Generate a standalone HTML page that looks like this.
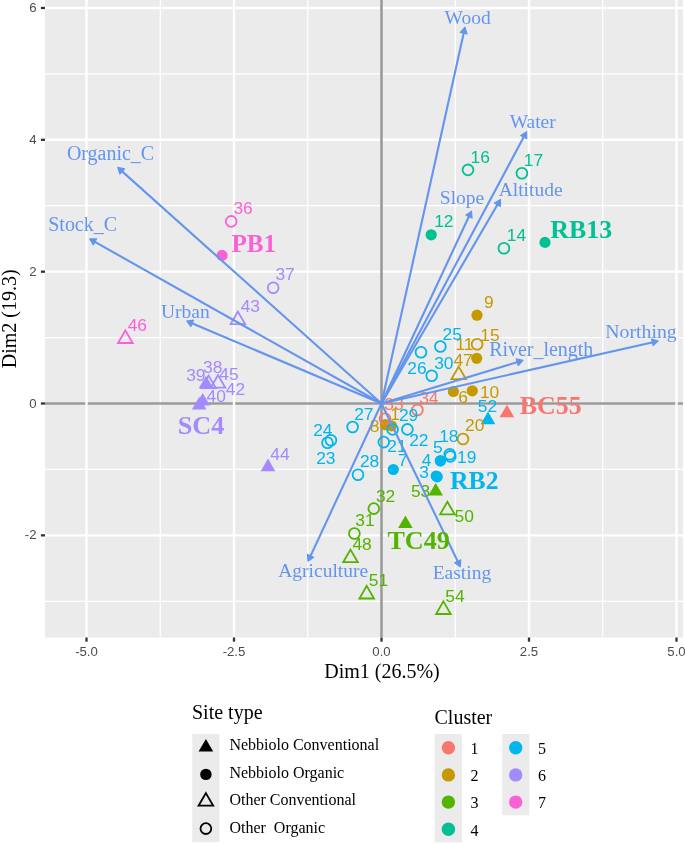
<!DOCTYPE html>
<html lang="en"><head><meta charset="utf-8"><title>PCA biplot</title>
<style>html,body{margin:0;padding:0;background:#fff}svg{display:block}.s{font-family:"Liberation Sans",Arial,sans-serif}.t{font-family:"Liberation Serif","Times New Roman",serif}</style></head><body>
<svg width="685" height="844" viewBox="0 0 685 844">
<rect x="0" y="0" width="685" height="844" fill="#fff"/>
<rect x="45.0" y="0.0" width="638.0" height="637.5" fill="#EBEBEB"/>
<clipPath id="p"><rect x="45" y="0" width="638" height="637.5"/></clipPath>
<g clip-path="url(#p)">
<line x1="45.0" x2="683.0" y1="73.90" y2="73.90" stroke="#fff" stroke-width="1.25"/>
<line x1="45.0" x2="683.0" y1="205.74" y2="205.74" stroke="#fff" stroke-width="1.25"/>
<line x1="45.0" x2="683.0" y1="337.58" y2="337.58" stroke="#fff" stroke-width="1.25"/>
<line x1="45.0" x2="683.0" y1="469.42" y2="469.42" stroke="#fff" stroke-width="1.25"/>
<line x1="45.0" x2="683.0" y1="601.26" y2="601.26" stroke="#fff" stroke-width="1.25"/>
<line x1="45.0" x2="683.0" y1="7.98" y2="7.98" stroke="#fff" stroke-width="2.4"/>
<line x1="45.0" x2="683.0" y1="139.82" y2="139.82" stroke="#fff" stroke-width="2.4"/>
<line x1="45.0" x2="683.0" y1="271.66" y2="271.66" stroke="#fff" stroke-width="2.4"/>
<line x1="45.0" x2="683.0" y1="403.50" y2="403.50" stroke="#fff" stroke-width="2.4"/>
<line x1="45.0" x2="683.0" y1="535.34" y2="535.34" stroke="#fff" stroke-width="2.4"/>
<line y1="0.0" y2="637.5" x1="160.25" x2="160.25" stroke="#fff" stroke-width="1.25"/>
<line y1="0.0" y2="637.5" x1="307.75" x2="307.75" stroke="#fff" stroke-width="1.25"/>
<line y1="0.0" y2="637.5" x1="455.25" x2="455.25" stroke="#fff" stroke-width="1.25"/>
<line y1="0.0" y2="637.5" x1="602.75" x2="602.75" stroke="#fff" stroke-width="1.25"/>
<line x1="45.0" x2="683.0" y1="403.5" y2="403.5" stroke="#999" stroke-width="2.6"/>
<line y1="0.0" y2="637.5" x1="86.50" x2="86.50" stroke="#fff" stroke-width="2.4"/>
<line y1="0.0" y2="637.5" x1="234.00" x2="234.00" stroke="#fff" stroke-width="2.4"/>
<line y1="0.0" y2="637.5" x1="381.50" x2="381.50" stroke="#fff" stroke-width="2.4"/>
<line y1="0.0" y2="637.5" x1="529.00" x2="529.00" stroke="#fff" stroke-width="2.4"/>
<line y1="0.0" y2="637.5" x1="676.50" x2="676.50" stroke="#fff" stroke-width="2.4"/>
<line y1="0.0" y2="637.5" x1="381.5" x2="381.5" stroke="#999" stroke-width="2.6"/>
<circle cx="391.4" cy="425.8" r="5.6000000000000005" fill="#C49A00"/>
<circle cx="437.2" cy="476.8" r="5.6000000000000005" fill="#00B6EB"/>
<circle cx="436.2" cy="476.0" r="5.6000000000000005" fill="#00B6EB"/>
<circle cx="440.4" cy="460.8" r="5.6000000000000005" fill="#00B6EB"/>
<circle cx="440.4" cy="460.8" r="5.6000000000000005" fill="#00B6EB"/>
<circle cx="453.4" cy="391.5" r="5.6000000000000005" fill="#C49A00"/>
<circle cx="393.3" cy="469.5" r="5.6000000000000005" fill="#00B6EB"/>
<circle cx="385.5" cy="424.7" r="5.6000000000000005" fill="#C49A00"/>
<circle cx="477.0" cy="315.2" r="5.6000000000000005" fill="#C49A00"/>
<circle cx="472.3" cy="390.8" r="5.6000000000000005" fill="#C49A00"/>
<circle cx="476.7" cy="358.3" r="5.6000000000000005" fill="#C49A00"/>
<circle cx="431.2" cy="234.8" r="5.6000000000000005" fill="#00C094"/>
<circle cx="545.0" cy="242.4" r="5.6000000000000005" fill="#00C094"/>
<circle cx="503.9" cy="248.2" r="5.4" fill="none" stroke="#00C094" stroke-width="1.8"/>
<circle cx="477.1" cy="344.3" r="5.4" fill="none" stroke="#C49A00" stroke-width="1.8"/>
<circle cx="468.0" cy="169.9" r="5.4" fill="none" stroke="#00C094" stroke-width="1.8"/>
<circle cx="521.9" cy="173.2" r="5.4" fill="none" stroke="#00C094" stroke-width="1.8"/>
<circle cx="449.7" cy="454.2" r="5.4" fill="none" stroke="#00B6EB" stroke-width="1.8"/>
<circle cx="450.3" cy="456.4" r="5.4" fill="none" stroke="#00B6EB" stroke-width="1.8"/>
<circle cx="463.0" cy="439.0" r="5.4" fill="none" stroke="#C49A00" stroke-width="1.8"/>
<circle cx="392.6" cy="429.4" r="5.4" fill="none" stroke="#00B6EB" stroke-width="1.8"/>
<circle cx="383.8" cy="442.1" r="5.4" fill="none" stroke="#00B6EB" stroke-width="1.8"/>
<circle cx="327.5" cy="442.7" r="5.4" fill="none" stroke="#00B6EB" stroke-width="1.8"/>
<circle cx="330.9" cy="440.2" r="5.4" fill="none" stroke="#00B6EB" stroke-width="1.8"/>
<circle cx="440.4" cy="346.5" r="5.4" fill="none" stroke="#00B6EB" stroke-width="1.8"/>
<circle cx="421.0" cy="352.2" r="5.4" fill="none" stroke="#00B6EB" stroke-width="1.8"/>
<circle cx="352.6" cy="427.0" r="5.4" fill="none" stroke="#00B6EB" stroke-width="1.8"/>
<circle cx="358.0" cy="474.8" r="5.4" fill="none" stroke="#00B6EB" stroke-width="1.8"/>
<circle cx="407.4" cy="429.4" r="5.4" fill="none" stroke="#00B6EB" stroke-width="1.8"/>
<circle cx="431.7" cy="375.8" r="5.4" fill="none" stroke="#00B6EB" stroke-width="1.8"/>
<circle cx="354.4" cy="533.5" r="5.4" fill="none" stroke="#53B400" stroke-width="1.8"/>
<circle cx="373.8" cy="508.6" r="5.4" fill="none" stroke="#53B400" stroke-width="1.8"/>
<circle cx="385.0" cy="418.8" r="5.4" fill="none" stroke="#F8766D" stroke-width="1.8"/>
<circle cx="417.4" cy="410.0" r="5.4" fill="none" stroke="#F8766D" stroke-width="1.8"/>
<circle cx="222.1" cy="255.4" r="5.6000000000000005" fill="#FB61D7"/>
<circle cx="231.2" cy="221.4" r="5.4" fill="none" stroke="#FB61D7" stroke-width="1.8"/>
<circle cx="273.2" cy="287.7" r="5.4" fill="none" stroke="#A58AFF" stroke-width="1.8"/>
<polygon points="208.6,375.6 215.9,388.2 201.3,388.2" fill="none" stroke="#A58AFF" stroke-width="1.8" stroke-linejoin="miter"/>
<polygon points="206.0,375.7 213.3,388.3 198.7,388.3" fill="#A58AFF"/>
<polygon points="202.7,393.0 210.0,405.6 195.4,405.6" fill="#A58AFF"/>
<polygon points="199.2,396.8 206.5,409.4 191.9,409.4" fill="#A58AFF"/>
<polygon points="237.9,311.6 245.2,324.2 230.6,324.2" fill="none" stroke="#A58AFF" stroke-width="1.8" stroke-linejoin="miter"/>
<polygon points="268.0,458.6 275.3,471.2 260.7,471.2" fill="#A58AFF"/>
<polygon points="218.0,375.1 225.3,387.7 210.7,387.7" fill="none" stroke="#A58AFF" stroke-width="1.8" stroke-linejoin="miter"/>
<polygon points="125.4,330.4 132.7,343.0 118.1,343.0" fill="none" stroke="#FB61D7" stroke-width="1.8" stroke-linejoin="miter"/>
<polygon points="458.7,366.6 466.0,379.2 451.4,379.2" fill="none" stroke="#C49A00" stroke-width="1.8" stroke-linejoin="miter"/>
<polygon points="350.5,549.6 357.8,562.2 343.2,562.2" fill="none" stroke="#53B400" stroke-width="1.8" stroke-linejoin="miter"/>
<polygon points="405.4,515.5 412.7,528.1 398.1,528.1" fill="#53B400"/>
<polygon points="447.4,501.8 454.7,514.4 440.1,514.4" fill="none" stroke="#53B400" stroke-width="1.8" stroke-linejoin="miter"/>
<polygon points="366.7,585.9 374.0,598.5 359.4,598.5" fill="none" stroke="#53B400" stroke-width="1.8" stroke-linejoin="miter"/>
<polygon points="488.0,411.6 495.3,424.2 480.7,424.2" fill="#00B6EB"/>
<polygon points="435.7,483.0 443.0,495.6 428.4,495.6" fill="#53B400"/>
<polygon points="443.4,601.4 450.7,614.0 436.1,614.0" fill="none" stroke="#53B400" stroke-width="1.8" stroke-linejoin="miter"/>
<polygon points="506.9,404.7 514.2,417.3 499.6,417.3" fill="#F8766D"/>
<text class="s" x="394.0" y="410.1" font-size="17.4" text-anchor="middle" fill="#F8766D">33</text>
<text class="s" x="428.8" y="403.5" font-size="17.4" text-anchor="middle" fill="#F8766D">34</text>
<text class="s" x="488.8" y="308.1" font-size="17.4" text-anchor="middle" fill="#C49A00">9</text>
<text class="s" x="489.9" y="341.4" font-size="17.4" text-anchor="middle" fill="#C49A00">15</text>
<text class="s" x="464.5" y="350.2" font-size="17.4" text-anchor="middle" fill="#C49A00">11</text>
<text class="s" x="463.1" y="366.3" font-size="17.4" text-anchor="middle" fill="#C49A00">47</text>
<text class="s" x="463.2" y="402.7" font-size="17.4" text-anchor="middle" fill="#C49A00">6</text>
<text class="s" x="489.6" y="397.7" font-size="17.4" text-anchor="middle" fill="#C49A00">10</text>
<text class="s" x="474.7" y="431.2" font-size="17.4" text-anchor="middle" fill="#C49A00">20</text>
<text class="s" x="374.7" y="432.0" font-size="17.4" text-anchor="middle" fill="#C49A00">8</text>
<text class="s" x="395.2" y="420.3" font-size="17.4" text-anchor="middle" fill="#C49A00">1</text>
<text class="s" x="385.6" y="502.1" font-size="17.4" text-anchor="middle" fill="#53B400">32</text>
<text class="s" x="365.0" y="526.4" font-size="17.4" text-anchor="middle" fill="#53B400">31</text>
<text class="s" x="362.1" y="550.0" font-size="17.4" text-anchor="middle" fill="#53B400">48</text>
<text class="s" x="378.5" y="586.2" font-size="17.4" text-anchor="middle" fill="#53B400">51</text>
<text class="s" x="420.6" y="496.7" font-size="17.4" text-anchor="middle" fill="#53B400">53</text>
<text class="s" x="464.2" y="521.5" font-size="17.4" text-anchor="middle" fill="#53B400">50</text>
<text class="s" x="454.9" y="601.8" font-size="17.4" text-anchor="middle" fill="#53B400">54</text>
<text class="s" x="480.2" y="162.5" font-size="17.4" text-anchor="middle" fill="#00C094">16</text>
<text class="s" x="533.5" y="165.5" font-size="17.4" text-anchor="middle" fill="#00C094">17</text>
<text class="s" x="443.8" y="227.3" font-size="17.4" text-anchor="middle" fill="#00C094">12</text>
<text class="s" x="516.4" y="241.1" font-size="17.4" text-anchor="middle" fill="#00C094">14</text>
<text class="s" x="452.2" y="339.6" font-size="17.4" text-anchor="middle" fill="#00B6EB">25</text>
<text class="s" x="417.0" y="373.8" font-size="17.4" text-anchor="middle" fill="#00B6EB">26</text>
<text class="s" x="443.8" y="368.9" font-size="17.4" text-anchor="middle" fill="#00B6EB">30</text>
<text class="s" x="363.8" y="419.6" font-size="17.4" text-anchor="middle" fill="#00B6EB">27</text>
<text class="s" x="408.6" y="421.0" font-size="17.4" text-anchor="middle" fill="#00B6EB">29</text>
<text class="s" x="418.8" y="445.8" font-size="17.4" text-anchor="middle" fill="#00B6EB">22</text>
<text class="s" x="396.9" y="451.7" font-size="17.4" text-anchor="middle" fill="#00B6EB">21</text>
<text class="s" x="322.8" y="436.2" font-size="17.4" text-anchor="middle" fill="#00B6EB">24</text>
<text class="s" x="325.8" y="463.6" font-size="17.4" text-anchor="middle" fill="#00B6EB">23</text>
<text class="s" x="369.6" y="467.3" font-size="17.4" text-anchor="middle" fill="#00B6EB">28</text>
<text class="s" x="402.8" y="466.2" font-size="17.4" text-anchor="middle" fill="#00B6EB">7</text>
<text class="s" x="426.7" y="466.2" font-size="17.4" text-anchor="middle" fill="#00B6EB">4</text>
<text class="s" x="437.8" y="453.2" font-size="17.4" text-anchor="middle" fill="#00B6EB">5</text>
<text class="s" x="424.0" y="478.2" font-size="17.4" text-anchor="middle" fill="#00B6EB">3</text>
<text class="s" x="448.8" y="442.2" font-size="17.4" text-anchor="middle" fill="#00B6EB">18</text>
<text class="s" x="466.7" y="463.4" font-size="17.4" text-anchor="middle" fill="#00B6EB">19</text>
<text class="s" x="487.4" y="412.2" font-size="17.4" text-anchor="middle" fill="#00B6EB">52</text>
<text class="s" x="285.1" y="280.0" font-size="17.4" text-anchor="middle" fill="#A58AFF">37</text>
<text class="s" x="250.3" y="311.7" font-size="17.4" text-anchor="middle" fill="#A58AFF">43</text>
<text class="s" x="195.8" y="381.3" font-size="17.4" text-anchor="middle" fill="#A58AFF">39</text>
<text class="s" x="212.7" y="372.6" font-size="17.4" text-anchor="middle" fill="#A58AFF">38</text>
<text class="s" x="229.0" y="380.1" font-size="17.4" text-anchor="middle" fill="#A58AFF">45</text>
<text class="s" x="235.5" y="394.7" font-size="17.4" text-anchor="middle" fill="#A58AFF">42</text>
<text class="s" x="216.2" y="402.3" font-size="17.4" text-anchor="middle" fill="#A58AFF">40</text>
<text class="s" x="279.9" y="459.5" font-size="17.4" text-anchor="middle" fill="#A58AFF">44</text>
<text class="s" x="243.1" y="213.9" font-size="17.4" text-anchor="middle" fill="#FB61D7">36</text>
<text class="s" x="137.3" y="330.7" font-size="17.4" text-anchor="middle" fill="#FB61D7">46</text>
<line x1="381.5" y1="403.5" x2="464.4" y2="30.1" stroke="#6495ED" stroke-width="2.1"/>
<polygon points="465.0,27.2 467.1,33.9 460.3,32.4" fill="#6495ED" stroke="#6495ED" stroke-width="1.1" stroke-linejoin="round"/>
<line x1="381.5" y1="403.5" x2="525.2" y2="134.3" stroke="#6495ED" stroke-width="2.1"/>
<polygon points="526.6,131.7 526.8,138.7 520.7,135.4" fill="#6495ED" stroke="#6495ED" stroke-width="1.1" stroke-linejoin="round"/>
<line x1="381.5" y1="403.5" x2="470.2" y2="213.8" stroke="#6495ED" stroke-width="2.1"/>
<polygon points="471.5,211.1 472.1,218.1 465.8,215.1" fill="#6495ED" stroke="#6495ED" stroke-width="1.1" stroke-linejoin="round"/>
<line x1="381.5" y1="403.5" x2="499.0" y2="202.0" stroke="#6495ED" stroke-width="2.1"/>
<polygon points="500.5,199.4 500.5,206.4 494.4,202.9" fill="#6495ED" stroke="#6495ED" stroke-width="1.1" stroke-linejoin="round"/>
<line x1="381.5" y1="403.5" x2="520.1" y2="361.3" stroke="#6495ED" stroke-width="2.1"/>
<polygon points="523.0,360.4 518.2,365.5 516.2,358.8" fill="#6495ED" stroke="#6495ED" stroke-width="1.1" stroke-linejoin="round"/>
<line x1="381.5" y1="403.5" x2="655.3" y2="341.7" stroke="#6495ED" stroke-width="2.1"/>
<polygon points="658.2,341.0 653.1,345.7 651.5,338.9" fill="#6495ED" stroke="#6495ED" stroke-width="1.1" stroke-linejoin="round"/>
<line x1="381.5" y1="403.5" x2="459.0" y2="564.0" stroke="#6495ED" stroke-width="2.1"/>
<polygon points="460.3,566.7 454.5,562.8 460.8,559.7" fill="#6495ED" stroke="#6495ED" stroke-width="1.1" stroke-linejoin="round"/>
<line x1="381.5" y1="403.5" x2="309.3" y2="558.6" stroke="#6495ED" stroke-width="2.1"/>
<polygon points="308.0,561.3 307.4,554.3 313.7,557.3" fill="#6495ED" stroke="#6495ED" stroke-width="1.1" stroke-linejoin="round"/>
<line x1="381.5" y1="403.5" x2="189.5" y2="322.2" stroke="#6495ED" stroke-width="2.1"/>
<polygon points="186.7,321.0 193.6,320.1 190.9,326.6" fill="#6495ED" stroke="#6495ED" stroke-width="1.1" stroke-linejoin="round"/>
<line x1="381.5" y1="403.5" x2="92.3" y2="240.4" stroke="#6495ED" stroke-width="2.1"/>
<polygon points="89.7,238.9 96.7,238.8 93.3,244.9" fill="#6495ED" stroke="#6495ED" stroke-width="1.1" stroke-linejoin="round"/>
<line x1="381.5" y1="403.5" x2="119.9" y2="169.4" stroke="#6495ED" stroke-width="2.1"/>
<polygon points="117.7,167.4 124.6,168.8 119.9,174.1" fill="#6495ED" stroke="#6495ED" stroke-width="1.1" stroke-linejoin="round"/>
<text class="t" x="467.6" y="24.1" font-size="19.5" text-anchor="middle" fill="#6495ED">Wood</text>
<text class="t" x="532.7" y="128.2" font-size="19.5" text-anchor="middle" fill="#6495ED">Water</text>
<text class="t" x="462.0" y="203.6" font-size="19.5" text-anchor="middle" fill="#6495ED">Slope</text>
<text class="t" x="530.6" y="196.1" font-size="19.5" text-anchor="middle" fill="#6495ED">Altitude</text>
<text class="t" x="541.2" y="355.5" font-size="19.95" text-anchor="middle" fill="#6495ED">River_length</text>
<text class="t" x="641.0" y="338.0" font-size="19.8" text-anchor="middle" fill="#6495ED">Northing</text>
<text class="t" x="461.9" y="578.8" font-size="19.5" text-anchor="middle" fill="#6495ED">Easting</text>
<text class="t" x="323.2" y="576.7" font-size="19.5" text-anchor="middle" fill="#6495ED">Agriculture</text>
<text class="t" x="185.3" y="318.0" font-size="19.5" text-anchor="middle" fill="#6495ED">Urban</text>
<text class="t" x="82.6" y="231.2" font-size="19.95" text-anchor="middle" fill="#6495ED">Stock_C</text>
<text class="t" x="110.5" y="160.2" font-size="19.95" text-anchor="middle" fill="#6495ED">Organic_C</text>
<text class="t" x="231.4" y="252.2" font-size="25.2" font-weight="bold" fill="#FB61D7">PB1</text>
<text class="t" x="550.3" y="237.9" font-size="25.9" font-weight="bold" fill="#00C094">RB13</text>
<text class="t" x="519.8" y="414.0" font-size="25.9" font-weight="bold" fill="#F8766D">BC55</text>
<text class="t" x="450.0" y="489.3" font-size="25.7" font-weight="bold" fill="#00B6EB">RB2</text>
<text class="t" x="387.4" y="549.4" font-size="26.1" font-weight="bold" fill="#53B400">TC49</text>
<text class="t" x="177.8" y="433.7" font-size="26.2" font-weight="bold" fill="#A58AFF">SC4</text>
</g>
<line x1="40.9" x2="45.0" y1="7.98" y2="7.98" stroke="#333" stroke-width="2.3"/>
<text class="s" x="36.6" y="12.0" font-size="13.2" text-anchor="end" fill="#4D4D4D">6</text>
<line x1="40.9" x2="45.0" y1="139.82" y2="139.82" stroke="#333" stroke-width="2.3"/>
<text class="s" x="36.6" y="143.8" font-size="13.2" text-anchor="end" fill="#4D4D4D">4</text>
<line x1="40.9" x2="45.0" y1="271.66" y2="271.66" stroke="#333" stroke-width="2.3"/>
<text class="s" x="36.6" y="275.7" font-size="13.2" text-anchor="end" fill="#4D4D4D">2</text>
<line x1="40.9" x2="45.0" y1="403.50" y2="403.50" stroke="#333" stroke-width="2.3"/>
<text class="s" x="36.6" y="407.5" font-size="13.2" text-anchor="end" fill="#4D4D4D">0</text>
<line x1="40.9" x2="45.0" y1="535.34" y2="535.34" stroke="#333" stroke-width="2.3"/>
<text class="s" x="36.6" y="539.3" font-size="13.2" text-anchor="end" fill="#4D4D4D">-2</text>
<line y1="637.5" y2="641.7" x1="86.50" x2="86.50" stroke="#333" stroke-width="2.3"/>
<text class="s" x="86.5" y="655.8" font-size="13.2" text-anchor="middle" fill="#4D4D4D">-5.0</text>
<line y1="637.5" y2="641.7" x1="234.00" x2="234.00" stroke="#333" stroke-width="2.3"/>
<text class="s" x="234.0" y="655.8" font-size="13.2" text-anchor="middle" fill="#4D4D4D">-2.5</text>
<line y1="637.5" y2="641.7" x1="381.50" x2="381.50" stroke="#333" stroke-width="2.3"/>
<text class="s" x="381.5" y="655.8" font-size="13.2" text-anchor="middle" fill="#4D4D4D">0.0</text>
<line y1="637.5" y2="641.7" x1="529.00" x2="529.00" stroke="#333" stroke-width="2.3"/>
<text class="s" x="529.0" y="655.8" font-size="13.2" text-anchor="middle" fill="#4D4D4D">2.5</text>
<line y1="637.5" y2="641.7" x1="676.50" x2="676.50" stroke="#333" stroke-width="2.3"/>
<text class="s" x="676.5" y="655.8" font-size="13.2" text-anchor="middle" fill="#4D4D4D">5.0</text>
<text class="t" x="382" y="678" font-size="20" text-anchor="middle" fill="#000">Dim1 (26.5%)</text>
<text class="t" transform="translate(15.9,318.8) rotate(-90)" font-size="20" text-anchor="middle" fill="#000">Dim2 (19.3)</text>
<text class="t" x="192" y="719" font-size="20" fill="#000">Site type</text>
<rect x="192.3" y="733.8" width="27.2" height="108.4" fill="#EBEBEB"/>
<polygon points="205.9,738.9 213.2,751.5 198.6,751.5" fill="#000"/>
<circle cx="205.9" cy="774.4" r="5.7" fill="#000"/>
<polygon points="205.9,793.1 213.2,805.7 198.6,805.7" fill="none" stroke="#000" stroke-width="1.8"/>
<circle cx="205.9" cy="828.6" r="5.4" fill="none" stroke="#000" stroke-width="1.8"/>
<text class="t" x="229.4" y="750.3" font-size="16" fill="#000">Nebbiolo Conventional</text>
<text class="t" x="229.4" y="777.8" font-size="16" fill="#000">Nebbiolo Organic</text>
<text class="t" x="229.4" y="805.1" font-size="16" fill="#000">Other Conventional</text>
<text class="t" x="229.4" y="832.5" font-size="16" fill="#000">Other&#160; Organic</text>
<text class="t" x="434.5" y="723.7" font-size="20" fill="#000">Cluster</text>
<rect x="434.7" y="734" width="27.2" height="108.4" fill="#EBEBEB"/>
<rect x="502.1" y="734" width="27.2" height="81.3" fill="#EBEBEB"/>
<circle cx="448.4" cy="747.7" r="6.7" fill="#F8766D"/>
<text class="t" x="470.5" y="754.0" font-size="16" fill="#000">1</text>
<circle cx="448.4" cy="774.9" r="6.7" fill="#C49A00"/>
<text class="t" x="470.5" y="781.2" font-size="16" fill="#000">2</text>
<circle cx="448.4" cy="802.1" r="6.7" fill="#53B400"/>
<text class="t" x="470.5" y="808.4" font-size="16" fill="#000">3</text>
<circle cx="448.4" cy="829.3" r="6.7" fill="#00C094"/>
<text class="t" x="470.5" y="835.6" font-size="16" fill="#000">4</text>
<circle cx="515.7" cy="747.7" r="6.7" fill="#00B6EB"/>
<text class="t" x="538" y="754.0" font-size="16" fill="#000">5</text>
<circle cx="515.7" cy="774.9" r="6.7" fill="#A58AFF"/>
<text class="t" x="538" y="781.2" font-size="16" fill="#000">6</text>
<circle cx="515.7" cy="802.1" r="6.7" fill="#FB61D7"/>
<text class="t" x="538" y="808.4" font-size="16" fill="#000">7</text>
</svg></body></html>
